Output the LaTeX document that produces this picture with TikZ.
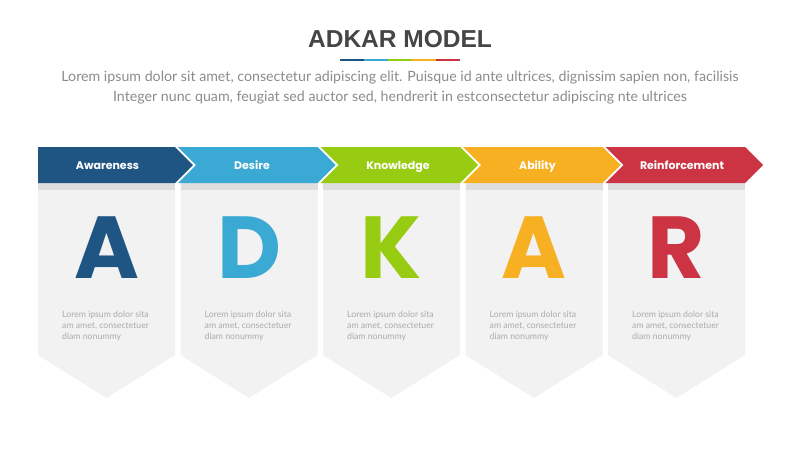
\documentclass[tikz,border=0pt]{standalone}
\usepackage{fontspec}
\setmainfont{Lato}
\newfontfamily\popfont{Poppins}
\newfontfamily\headfont{Liberation Sans}
\usetikzlibrary{positioning}
\definecolor{adkA}{HTML}{1F5582}
\definecolor{adkD}{HTML}{3AA9D4}
\definecolor{adkK}{HTML}{98CC12}
\definecolor{adkB}{HTML}{F6B021}
\definecolor{adkR}{HTML}{CC3343}
\definecolor{panelgray}{HTML}{F2F2F2}
\definecolor{shadegray}{HTML}{DEDEDE}
\definecolor{notegray}{HTML}{ABABAB}
\definecolor{titlegray}{HTML}{454545}
\definecolor{subgray}{HTML}{8C8C8C}

\begin{document}
\begin{tikzpicture}
[x=1pt,y=-1pt,
 panel/.style={fill=panelgray},
 shade/.style={fill=shadegray},
 lbl/.style={anchor=base,text=white,inner sep=0pt,font=\popfont\bfseries\fontsize{11}{13}\selectfont},
 letter/.style={anchor=base,inner sep=0pt,font=\popfont\bfseries\fontsize{88}{88}\selectfont},
 note/.style={anchor=north west,align=left,inner sep=0pt,text=notegray,font=\fontsize{8.7}{11}\selectfont}]
\useasboundingbox[fill=white] (0,0) rectangle (800,450);
\node[anchor=base,inner sep=0pt,text=titlegray,font=\headfont\bfseries\fontsize{24.5}{28}\selectfont](title) at (400,47) {ADKAR MODEL};
\node[align=center,inner sep=0pt,text=subgray,font=\fontsize{14.2}{19.5}\selectfont](sub) at (400,87.5) {Lorem ipsum dolor sit amet, consectetur adipiscing elit. Puisque id ante ultrices, dignissim sapien non, facilisis\\Integer nunc quam, feugiat sed auctor sed, hendrerit in estconsectetur adipiscing nte ultrices};
\coordinate (b0) at (340,60);
\coordinate (b1) at (364,60);
\coordinate (b2) at (388,60);
\coordinate (b3) at (412,60);
\coordinate (b4) at (436,60);
\coordinate (b5) at (460,60);
\draw[adkA,line width=2pt] (b0) -- (b1);
\draw[adkD,line width=2pt] (b1) -- (b2);
\draw[adkK,line width=2pt] (b2) -- (b3);
\draw[adkB,line width=2pt] (b3) -- (b4);
\draw[adkR,line width=2pt] (b4) -- (b5);
\fill[panel] (38,183) -- (175,183) -- (175,355) -- (106.5,398) -- (38,355) -- cycle;
\fill[panel] (180.5,183) -- (317.5,183) -- (317.5,355) -- (249,398) -- (180.5,355) -- cycle;
\fill[panel] (323,183) -- (460,183) -- (460,355) -- (391.5,398) -- (323,355) -- cycle;
\fill[panel] (465.5,183) -- (602.5,183) -- (602.5,355) -- (534,398) -- (465.5,355) -- cycle;
\fill[panel] (608,183) -- (745,183) -- (745,355) -- (676.5,398) -- (608,355) -- cycle;
\fill[shade] (38,183) rectangle (175,190);
\fill[shade] (180.5,183) rectangle (317.5,190);
\fill[shade] (323,183) rectangle (460,190);
\fill[shade] (465.5,183) rectangle (602.5,190);
\fill[shade] (608,183) rectangle (745,190);
\fill[adkA] (38,147) -- (175,147) -- (193,165) -- (175,183) -- (38,183) -- cycle;
\fill[adkD] (178,147) -- (317.5,147) -- (335.5,165) -- (317.5,183) -- (178,183) -- (196,165) -- cycle;
\fill[adkK] (320.5,147) -- (460,147) -- (478,165) -- (460,183) -- (320.5,183) -- (338.5,165) -- cycle;
\fill[adkB] (463,147) -- (602.5,147) -- (620.5,165) -- (602.5,183) -- (463,183) -- (481,165) -- cycle;
\fill[adkR] (605.5,147) -- (745,147) -- (763,165) -- (745,183) -- (605.5,183) -- (623.5,165) -- cycle;
\node[lbl](aw) at (107.5,169) {Awareness};
\node[lbl](de) at (252,169) {Desire};
\node[lbl](kn) at (398,169) {Knowledge};
\node[lbl](ab) at (537.5,169) {Ability};
\node[lbl](re) at (682,169) {Reinforcement};
\node[letter,text=adkA](la) at (106.5,278) {A};
\node[letter,text=adkD](ld) at (249,278) {D};
\node[letter,text=adkK](lk) at (391.5,278) {K};
\node[letter,text=adkB](lb) at (534,278) {A};
\node[letter,text=adkR](lr) at (676.5,278) {R};
\node[note](na) at (62,311) {Lorem ipsum dolor sita\\am amet, consectetuer\\diam nonummy};
\node[note](nd) at (204.5,311) {Lorem ipsum dolor sita\\am amet, consectetuer\\diam nonummy};
\node[note](nk) at (347,311) {Lorem ipsum dolor sita\\am amet, consectetuer\\diam nonummy};
\node[note](nb) at (489.5,311) {Lorem ipsum dolor sita\\am amet, consectetuer\\diam nonummy};
\node[note](nr) at (632,311) {Lorem ipsum dolor sita\\am amet, consectetuer\\diam nonummy};
\end{tikzpicture}
\end{document}
